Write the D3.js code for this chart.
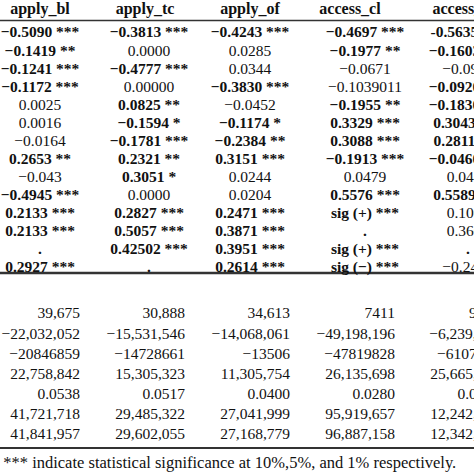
<!DOCTYPE html>
<html>
<head>
<meta charset="utf-8">
<script src="https://cdn.jsdelivr.net/npm/d3@7"></script>
<style>
  body { margin: 0; background: #fff; }
  svg { display: block; font-family: "Liberation Serif", "DejaVu Serif", serif; }
</style>
</head>
<body>
<svg id="chart" width="474" height="474"></svg>
<script>
const columns = ["apply_bl", "apply_tc", "apply_of", "access_cl", "access_bl"];

// coefficient block, one array per column
const applyBl = ["−0.5090 ***", "−0.1419 **", "−0.1241 ***", "−0.1172 ***", "0.0025", "0.0016", "−0.0164", "0.2653 **", "−0.043", "−0.4945 ***", "0.2133 ***", "0.2133 ***", ".", "0.2927 ***"];
const applyTc = ["−0.3813 ***", "0.0000", "−0.4777 ***", "0.00000", "0.0825 **", "−0.1594 *", "−0.1781 ***", "0.2321 **", "0.3051 *", "0.0000", "0.2827 ***", "0.5057 ***", "0.42502 ***", "."];
const applyOf = ["−0.4243 ***", "0.0285", "0.0344", "−0.3830 ***", "−0.0452", "−0.1174 *", "−0.2384 **", "0.3151 ***", "0.0244", "0.0204", "0.2471 ***", "0.3871 ***", "0.3951 ***", "0.2614 ***"];
const accessCl = ["−0.4697 ***", "−0.1977 **", "−0.0671", "−0.1039011", "−0.1955 **", "0.3329 ***", "0.3088 ***", "−0.1913 ***", "0.0479", "0.5576 ***", "sig (+) ***", ".", "sig (+) ***", "sig (−) ***"];
const accessBl = ["-0.5635 ***", "−0.1603 ***", "−0.0900", "−0.0920 ***", "−0.1830 ***", "0.3043 ***", "0.2811 ***", "−0.0460 ***", "0.0480", "0.5589 ***", "0.1000", "0.3600", ".", "−0.2400"];

// which cells are set in bold
const boldBl = [1,1,1,1,0,0,0,1,0,1,1,1,1,1];
const boldTc = [1,0,1,0,1,1,1,1,1,0,1,1,1,1];
const boldOf = [1,0,0,1,0,1,1,1,0,0,1,1,1,1];
const boldCl = [1,1,0,0,1,1,1,1,0,1,1,1,1,1];
const boldB  = [1,1,0,1,1,1,1,1,0,1,0,0,1,0];

// fit statistics block
const statsBl = ["39,675", "−22,032,052", "−20846859", "22,758,842", "0.0538", "41,721,718", "41,841,957"];
const statsTc = ["30,888", "−15,531,546", "−14728661", "15,305,323", "0.0517", "29,485,322", "29,602,055"];
const statsOf = ["34,613", "−14,068,061", "−13506", "11,305,754", "0.0400", "27,041,999", "27,168,779"];
const statsCl = ["7411", "−49,198,196", "−47819828", "26,135,698", "0.0280", "95,919,657", "96,887,158"];
const statsB  = ["9312", "−6,239,514", "−6107325", "25,665,210", "0.0612", "12,242,871", "12,342,530"];

const footnote = "*, **, *** indicate statistical significance at 10%,5%, and 1% respectively.";

const coefCols = [applyBl, applyTc, applyOf, accessCl, accessBl];
const boldCols = [boldBl, boldTc, boldOf, boldCl, boldB];
const statCols = [statsBl, statsTc, statsOf, statsCl, statsB];

const svg = d3.select("#chart");

const x = d3.scalePoint().domain(columns).range([40, 460]);
const yCoef = d3.scalePoint().domain(d3.range(14)).range([32, 267]);
const yStat = d3.scalePoint().domain(d3.range(7)).range([313, 434]);

// rules
svg.append("line").attr("x1", 0).attr("x2", 474).attr("y1", 20.5).attr("y2", 20.5)
	.attr("stroke", "#333").attr("stroke-width", 1.4);
svg.append("line").attr("x1", 0).attr("x2", 474).attr("y1", 273).attr("y2", 273)
	.attr("stroke", "#333").attr("stroke-width", 2.4);
svg.append("line").attr("x1", 0).attr("x2", 474).attr("y1", 448).attr("y2", 448)
	.attr("stroke", "#333").attr("stroke-width", 2.2);

// header
svg.selectAll("text.head").data(columns).join("text")
	.attr("class", "head")
	.attr("x", d => x(d) + (d === "access_cl" ? -5 : 0) + (d === "access_bl" ? 4 : 0))
	.attr("y", 8)
	.attr("dy", "0.35em")
	.attr("text-anchor", "middle")
	.attr("font-size", 16)
	.attr("font-weight", "bold")
	.attr("fill", "#111")
	.text(d => d);

// coefficients
coefCols.forEach((col, ci) => {
	svg.append("g").selectAll("text").data(col).join("text")
		.attr("x", x(columns[ci]) + (ci === 3 ? 10 : 0) + (ci === 1 ? 4 : 0) + (ci === 4 ? 8 : 0))
		.attr("y", (d, i) => yCoef(i))
		.attr("dy", "0.35em")
		.attr("text-anchor", "middle")
		.attr("font-size", 15.5)
		.attr("font-weight", (d, i) => boldCols[ci][i] ? "bold" : "normal")
		.attr("fill", "#111")
		.text(d => d);
});

// statistics, right aligned
statCols.forEach((col, ci) => {
	svg.append("g").selectAll("text").data(col).join("text")
		.attr("x", x(columns[ci]) + 40)
		.attr("y", (d, i) => yStat(i))
		.attr("dy", "0.35em")
		.attr("text-anchor", "end")
		.attr("font-size", 15.5)
		.attr("fill", "#111")
		.text(d => d);
});

svg.append("text")
	.attr("x", -38)
	.attr("y", 462)
	.attr("dy", "0.35em")
	.attr("font-size", 16.5)
	.attr("fill", "#111")
	.text(footnote);
</script>
</body>
</html>
